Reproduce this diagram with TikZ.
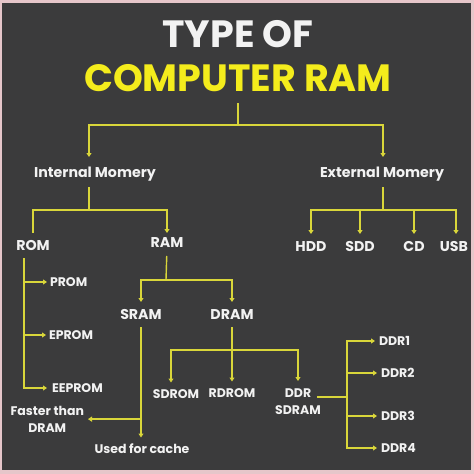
\documentclass[tikz,border=0pt]{standalone}
\usepackage{fontspec}
\setmainfont{Poppins}
\usetikzlibrary{arrows.meta,calc}
\definecolor{board}{HTML}{3B3B3C}
\definecolor{frame}{HTML}{E6C6CA}
\definecolor{ttlyel}{HTML}{F4EC1C}
\definecolor{lnyel}{HTML}{D9D63A}
\definecolor{chalk}{HTML}{F2F2F2}
\begin{document}
\begin{tikzpicture}[x=1pt,y=-1pt,
  lbl/.style={text=chalk,font=\bfseries\fontsize{14.2}{17}\selectfont,inner sep=0pt,outer sep=0pt,text height=10pt,text depth=0pt},
  sml/.style={text=chalk,font=\bfseries\fontsize{12.5}{17}\selectfont,inner sep=0pt,outer sep=0pt,text height=9pt,text depth=0pt},
  smlml/.style={text=chalk,font=\bfseries\fontsize{12.5}{17}\selectfont,inner sep=0pt,outer sep=0pt,align=center},
  ttl/.style={font=\bfseries\fontsize{38}{40}\selectfont,inner sep=0pt,text height=26pt,text depth=0pt},
  ln/.style={draw=lnyel,line width=1.4pt},
  arr/.style={ln,-{Triangle[width=5pt,length=4pt]}}]
\fill[frame] (0,0) rectangle (474,474);
\fill[board] (2,3) rectangle (471,470);
\useasboundingbox (0,0) rectangle (474,474);
% titles
\node[ttl,text=chalk] (t1) at (238,34) {TYPE OF};
\node[ttl,text=ttlyel] (t2) at (238,78) {COMPUTER RAM};
\coordinate (j0) at (238,125);
\node[lbl] (int) at (95,172) {Internal Momery};
\node[lbl] (ext) at (382,172) {External Momery};
\draw[ln,shorten <=12pt] (t2.south) -- (j0);
\draw[arr,shorten >=10pt] (j0) -| ([xshift=-6pt]int.north);
\draw[arr,shorten >=10pt] (j0) -| ([xshift=1pt]ext.north);
% internal
\coordinate (j1) at (89,210);
\node[lbl] (rom) at (33,245) {ROM};
\node[lbl] (ram) at (167,242) {RAM};
\draw[ln,shorten <=10pt] ([xshift=-6pt]int.south) -- (j1);
\draw[ln,shorten >=7pt] (j1) -| (rom.north);
\draw[arr,shorten >=4pt] (j1) -| (ram.north);
% ROM children
\node[sml,anchor=west] (prom) at (50,282) {PROM};
\node[sml,anchor=west] (eprom) at (49,335) {EPROM};
\node[sml,anchor=west] (eeprom) at (52,388) {EEPROM};
\coordinate (rs) at (24,258);
\draw[arr,shorten >=3pt] (rs) |- (prom.west);
\draw[arr,shorten >=3pt] (rs) |- (eprom.west);
\draw[arr,shorten >=5pt] (rs) |- (eeprom.west);
% RAM children
\coordinate (j2) at (166,280);
\node[lbl] (sram) at (141,314) {SRAM};
\node[lbl] (dram) at (232,314) {DRAM};
\draw[ln,shorten <=9pt] (ram.south) -- (j2);
\draw[arr,shorten >=7pt] (j2) -| (sram.north);
\draw[arr,shorten >=7pt] (j2) -| (dram.north);
% SRAM
\node[sml] (cache) at (142,449) {Used for cache};
\node[smlml,anchor=north east] (fast) at (84,406) {Faster than\\DRAM};
\draw[arr,shorten <=8pt,shorten >=7pt] (sram.south) -- (sram.south |- cache.north);
\draw[arr,shorten >=4pt] (sram.south |- fast.east) -- (fast.east);
% DRAM
\coordinate (j3) at (232,350);
\node[sml] (sdrom) at (176,394) {SDROM};
\node[sml] (rdrom) at (232,393) {RDROM};
\node[smlml,anchor=north] (ddr) at (298,389) {DDR\\SDRAM};
\draw[ln,shorten <=8pt] (dram.south) -- (j3);
\draw[arr,shorten >=7pt] (j3) -- (rdrom.north);
\draw[arr,shorten >=7pt] (j3) -| ([xshift=-5pt]sdrom.north);
\draw[arr,shorten >=8pt] (j3) -| (ddr.north);
% DDR children
\coordinate (j4) at (347,397);
\node[sml,anchor=west] (d1) at (379,341) {DDR1};
\node[sml,anchor=west] (d2) at (381,373) {DDR2};
\node[sml,anchor=west] (d3) at (381,416) {DDR3};
\node[sml,anchor=west] (d4) at (381,448) {DDR4};
\draw[ln,shorten <=-4pt] (ddr.east |- j4) -- (j4);
\draw[arr,shorten >=4pt] (j4) |- (d1.west);
\draw[arr,shorten >=4pt] (j4) |- (d2.west);
\draw[arr,shorten >=4pt] (j4) |- (d3.west);
\draw[arr,shorten >=4pt] (j4) |- (d4.west);
% external
\coordinate (j5) at (383,210);
\node[lbl] (hdd) at (311,246) {HDD};
\node[lbl] (sdd) at (360,246) {SDD};
\node[lbl] (cd) at (414,246) {CD};
\node[lbl] (usb) at (454,246) {USB};
\draw[ln,shorten <=10pt] ([xshift=1pt]ext.south) -- (j5);
\draw[arr,shorten >=7pt] (j5) -| (hdd.north);
\draw[arr,shorten >=7pt] (j5) -| (sdd.north);
\draw[arr,shorten >=7pt] (j5) -| (cd.north);
\draw[arr,shorten >=7pt] (j5) -| ([xshift=2pt]usb.north);
\end{tikzpicture}
\end{document}
